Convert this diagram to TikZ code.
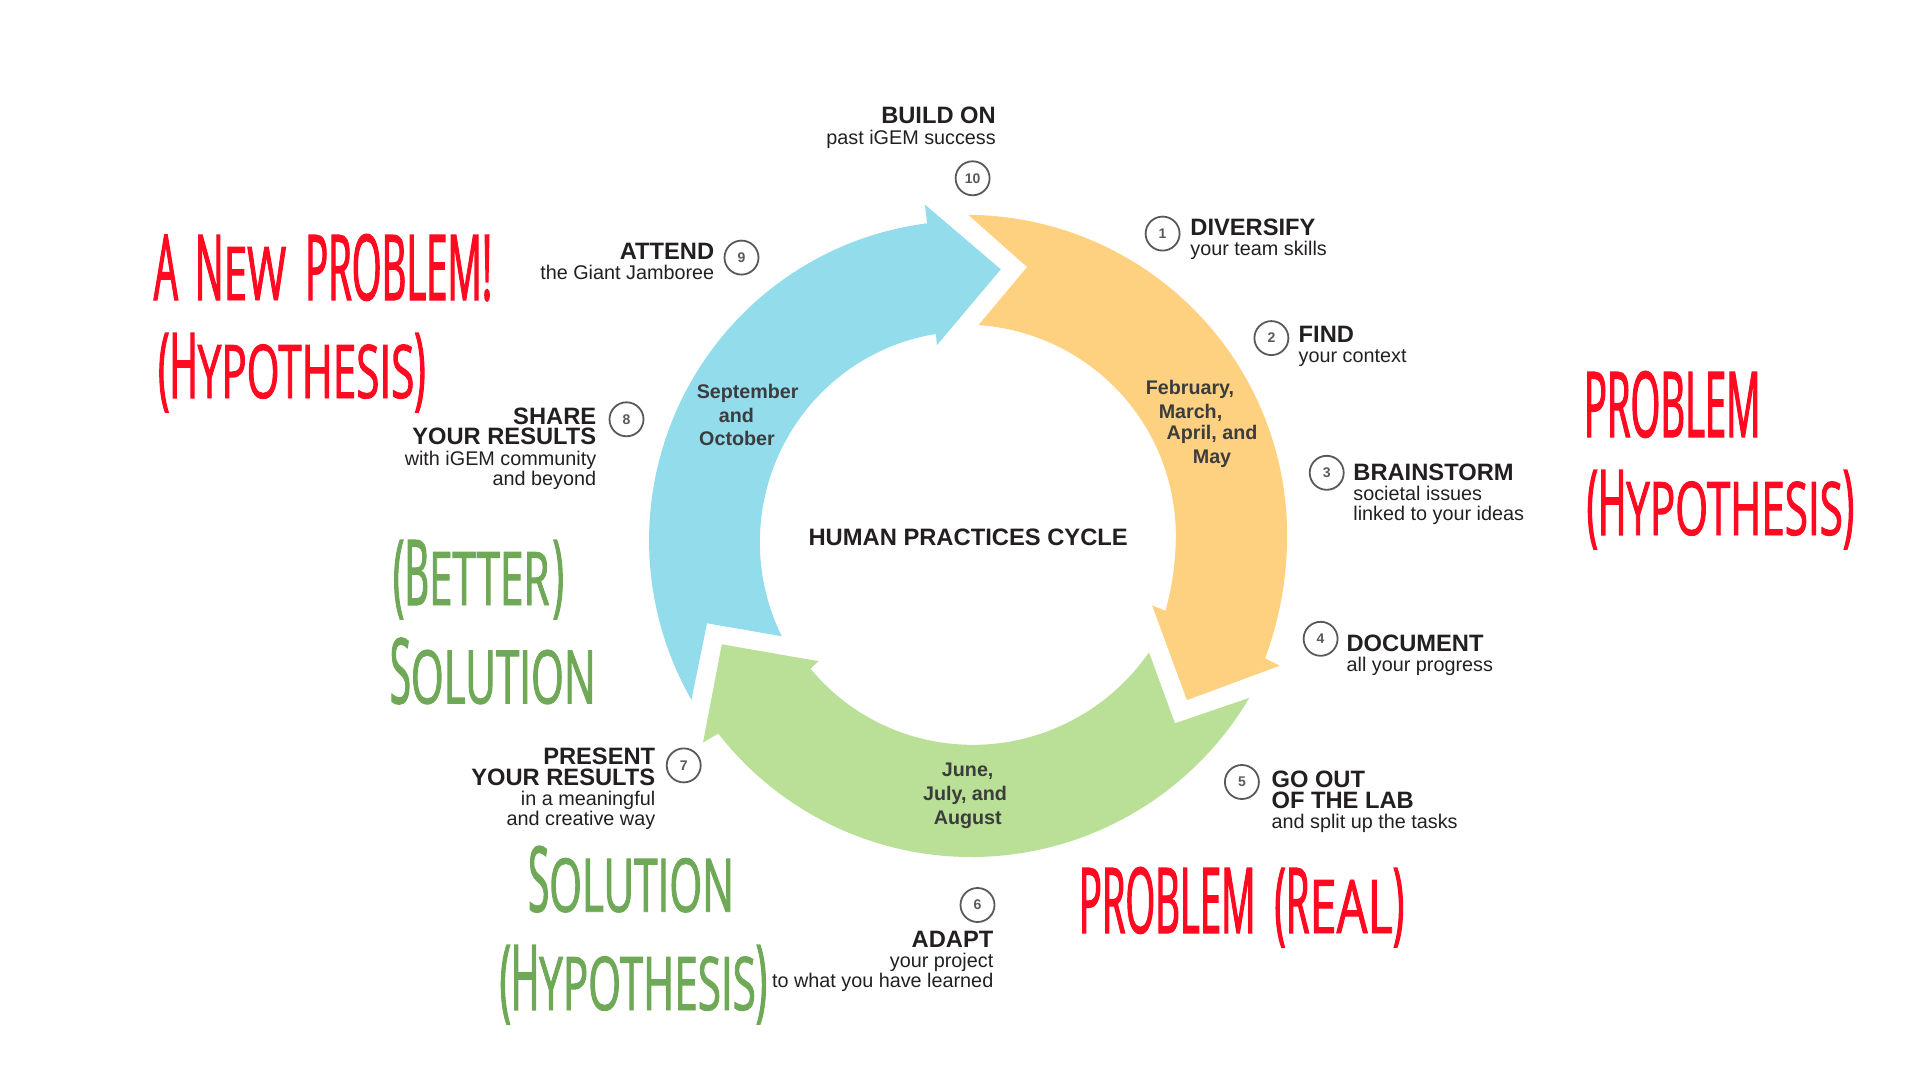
\documentclass[tikz,border=0pt]{standalone}
\usepackage{fontspec}
\setmainfont{Liberation Sans}
\newfontfamily\handfont[FakeStretch=0.42,FakeBold=1.2]{Open Sans}
\newfontfamily\handsmall[FakeStretch=0.57,FakeBold=1.2]{Open Sans}
\newfontfamily\handwide[FakeStretch=0.66,FakeBold=1.2]{Open Sans}
\usetikzlibrary{positioning}
\definecolor{ringorange}{HTML}{FDD17F}
\definecolor{ringblue}{HTML}{92DCEC}
\definecolor{ringgreen}{HTML}{B9E096}
\definecolor{handred}{HTML}{FF0A20}
\definecolor{handgreen}{HTML}{6FA957}
\definecolor{inktext}{HTML}{231F20}
\definecolor{monthtext}{HTML}{3C3C3E}
\definecolor{ringgrey}{HTML}{58595B}
\newcommand{\hd}[1]{{\bfseries\fontsize{23.7}{20.3}\selectfont #1}}
\newcommand{\lc}[1]{{\handsmall\fontsize{74}{80}\selectfont #1}}
\newcommand{\lcw}[1]{{\handwide\fontsize{74}{80}\selectfont #1}}
\tikzset{stepno/.style={circle,draw=ringgrey,line width=1.8pt,minimum size=34pt,inner sep=0pt,text=ringgrey,font=\bfseries\fontsize{14}{14}\selectfont},
stepright/.style={anchor=east,align=right,inner sep=0pt,text=inktext,font=\fontsize{19.8}{20.3}\selectfont},
stepleft/.style={anchor=west,align=left,inner sep=0pt,text=inktext,font=\fontsize{19.8}{20.3}\selectfont},
month/.style={inner sep=0pt,text=monthtext,font=\bfseries\fontsize{19.7}{20}\selectfont},
handr/.style={anchor=base west,inner sep=0pt,text=handred,font=\handfont\fontsize{91}{95}\selectfont},
handg/.style={anchor=base west,inner sep=0pt,text=handgreen,font=\handfont\fontsize{91}{95}\selectfont}}
\begin{document}
\begin{tikzpicture}[x=1pt,y=1pt,yscale=-1]
\useasboundingbox (0,0) rectangle (1928,1086);

%ring corners
\coordinate (o1) at (968.2,214.8);
\coordinate (o2) at (1027.1,267.0);
\coordinate (o3) at (978.5,325.1);
\coordinate (o4) at (1152.1,605.4);
\coordinate (o5) at (1186.9,700.1);
\coordinate (o6) at (1279.8,665.7);
\coordinate (b1) at (691.4,700.1);
\coordinate (b2) at (924.9,204.6);
\coordinate (b3) at (1000.8,269.3);
\coordinate (b4) at (936.9,345.2);
\coordinate (b5) at (781.6,636.2);
\coordinate (b6) at (707.0,623.3);
\coordinate (g1) at (1249.4,697.8);
\coordinate (g2) at (1174.9,723.3);
\coordinate (g3) at (1149.0,652.3);
\coordinate (g4) at (818.6,661.2);
\coordinate (g5) at (721.8,644.3);
\coordinate (g6) at (703.0,742.5);

%ring
\begin{scope}[shift={(968.2,535.4)}]
\fill[ringorange] (o1) -- (o2) -- (o3) -- plot[domain=-87.2:20.9,samples=60] (\x:{207.6+(\x<0?3*(\x/87.2)*(\x/87.2):3.6*(\x/20.9)*(\x/20.9))}) -- (o4) -- (o5) -- (o6)
  -- plot[domain=22.5:-90,samples=60] (\x:{319+(\x<0?1.6*(\x/90)*(\x/90):2.4*(\x/22.5)*(\x/22.5))}) -- cycle;
\fill[ringblue] (b1) -- plot[domain=149.25:262.5,samples=60] (\x:{322-0.0636*(\x-149.25)-1.2*sin(1.5894*(\x-149.25))}) -- (b2) -- (b3) -- (b4)
  -- plot[domain=260.9:151.6,samples=60] (\x:{204+0.0732*(260.9-\x)-2.3*sin(1.6468*(260.9-\x))}) -- (b6) -- cycle;
\fill[ringgreen] (g1) -- (g2) -- (g3) -- plot[domain=32.9:139.8,samples=60] (\x:{215.3-0.0823*(\x-32.9)-1.2*sin(1.6838*(\x-32.9))}) -- (g4) -- (g5) -- (g6)
  -- plot[domain=141.6:30,samples=60] (\x:{319+0.0511*(141.6-\x)}) -- cycle;
\end{scope}

\node (title) at (968.2,537.5)[text=inktext,inner sep=0pt,font=\bfseries\fontsize{23.75}{24}\selectfont]{HUMAN PRACTICES CYCLE};

%months
\node (sep) at (747.7,393.1)[month]{September};
\node (sepand) at (736.5,415.3)[month]{and};
\node (oct) at (737,438.9)[month]{October};
\node (feb) at (1190,389.1)[month]{February,};
\node (mar) at (1190.5,412.8)[month]{March,};
\node (apr) at (1212,434.7)[month]{April, and};
\node (may) at (1212,458.8)[month]{May};
\node (jun) at (967.7,771.1)[month]{June,};
\node (jul) at (965,795.8)[month]{July, and};
\node (aug) at (967.7,819.5)[month]{August};

%steps
\node (n1) at (1162.6,233.6)[stepno]{1};
\node (t1) at (1190.2,239.2)[stepleft]{\hd{DIVERSIFY}\\your team skills};
\node (n2) at (1271.4,338.1)[stepno]{2};
\node (t2) at (1298.5,346.7)[stepleft]{\hd{FIND}\\your context};
\node (n3) at (1326.7,472.8)[stepno]{3};
\node (t3) at (1353.2,494.2)[stepleft]{\hd{BRAINSTORM}\\societal issues\\linked to your ideas};
\node (n4) at (1320.6,638.8)[stepno]{4};
\node (t4) at (1346.4,655.2)[stepleft]{\hd{DOCUMENT}\\all your progress};
\node (n5) at (1241.9,782)[stepno]{5};
\node (t5) at (1271.4,801.8)[stepleft]{\hd{GO OUT}\\\hd{OF THE LAB}\\and split up the tasks};
\node (n6) at (977.5,905)[stepno]{6};
\node (t6) at (993.5,961.5)[stepright]{\hd{ADAPT}\\your project\\to what you have learned};
\node (n7) at (683.7,765.4)[stepno]{7};
\node (t7) at (655.4,789.2)[stepright]{\hd{PRESENT}\\\hd{YOUR RESULTS}\\in a meaningful\\and creative way};
\node (n8) at (626.5,419.3)[stepno]{8};
\node (t8) at (596.4,448.7)[stepright]{\hd{SHARE}\\\hd{YOUR RESULTS}\\with iGEM community\\and beyond};
\node (n9) at (741.5,257.6)[stepno]{9};
\node (t9) at (714.4,261.2)[stepright]{\hd{ATTEND}\\the Giant Jamboree};
\node (n10) at (972.6,178.3)[stepno]{10};
\node (t10) at (996,127.7)[stepright]{\hd{BUILD ON}\\past iGEM success};

%notes
\node (newprob) at (153.6,300)[handr]{A\hspace{7pt} N\lc{EW}\hspace{9pt} PROBLEM!};
\node (hypleft) at (158,398)[handr]{(H\lc{YPOTHESIS})};
\node (better) at (392.8,605)[handg]{(B\lc{ETTER}\hspace{3pt})};
\node (solone) at (389.7,703.5)[handg]{S\lc{OLUTION}};
\node (prob) at (1583.7,437)[handr]{PROBLEM};
\node (hypright) at (1586.5,535)[handr]{(H\lc{YPOTHESIS})};
\node (soltwo) at (528,911.7)[handg]{S\lc{OLUTION}};
\node (hypgreen) at (499.5,1010)[handg]{(H\lc{YPOTHESIS})};
\node (probreal) at (1078.6,933)[handr]{PROBLEM\hspace{9pt} (R\lcw{EAL})};
\end{tikzpicture}
\end{document}
